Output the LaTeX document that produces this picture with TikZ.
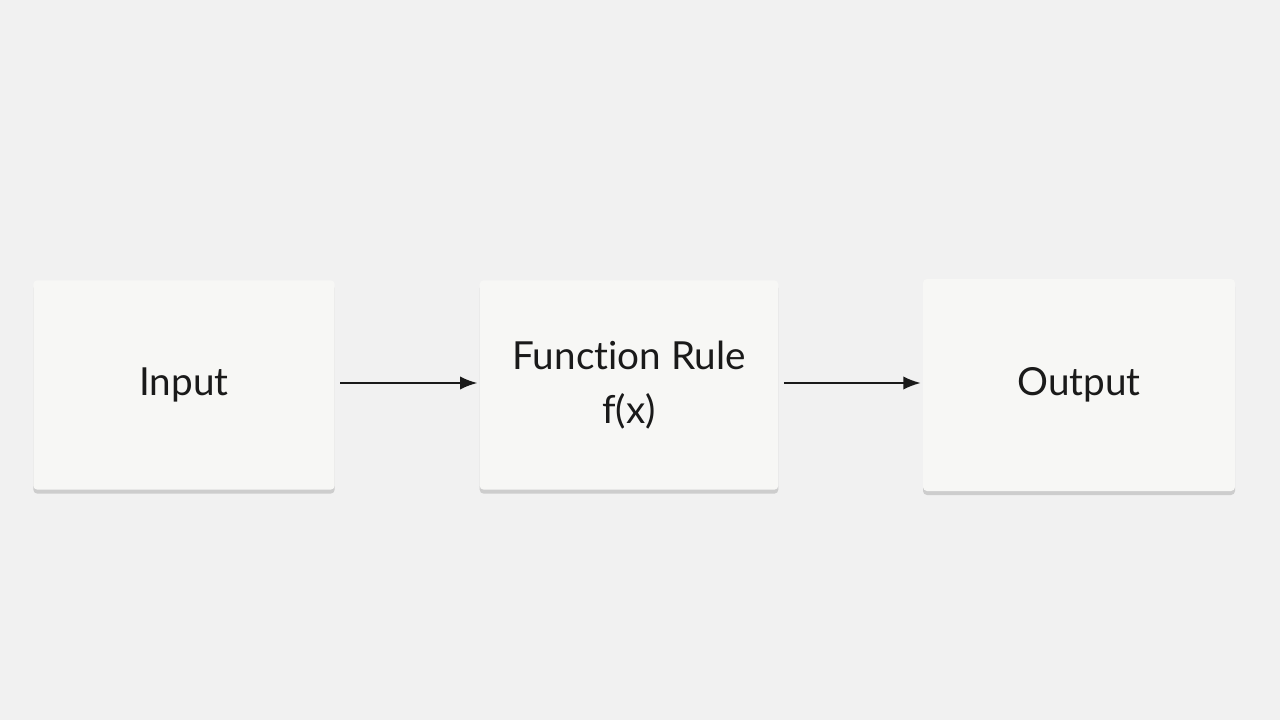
\documentclass[tikz,border=0pt]{standalone}
\usepackage{fontspec}
\setmainfont[Ligatures=NoCommon]{Lato}
\usetikzlibrary{shadows}
\usetikzlibrary{positioning}
\usetikzlibrary{arrows,arrows.meta,shapes}
\definecolor{wallgray}{HTML}{F1F1F1}
\definecolor{cardwhite}{HTML}{F7F7F5}
\definecolor{inkblack}{HTML}{1A1A1A}
\tikzstyle{card}=[rectangle,rounded corners=3pt,fill=cardwhite,draw=none,align=center,text=inkblack,font=\fontsize{29}{40}\selectfont,drop shadow={shadow xshift=0pt,shadow yshift=-3pt,opacity=0.15,fill=black}]
\tikzstyle{link} = [-{Latex[length=13pt,width=10pt]}, line width=1.5pt, inkblack]

\begin{document}
\begin{tikzpicture}[x=0.75pt, y=-0.75pt]

   \fill[wallgray] (0,0) rectangle (1280,720);
   \useasboundingbox (0,0) rectangle (1280,720);

    \foreach \pos/\name/\w/\h/\txt in {{(184,385)/inp/226pt/157pt/Input}, {(629,385)/func/224pt/157pt/{Function Rule\\f(x)}}, {(1079,385)/outp/234pt/159pt/Output}}
        \node[card, minimum width=\w, minimum height=\h] (\name) at \pos {\txt};

    \foreach \source/\dest in {inp/func, func/outp}
        \draw[link, shorten <=4pt, shorten >=1.5pt] ([yshift=1.5pt]\source.east) -- ([yshift=1.5pt]\dest.west);

\end{tikzpicture}
\end{document}
